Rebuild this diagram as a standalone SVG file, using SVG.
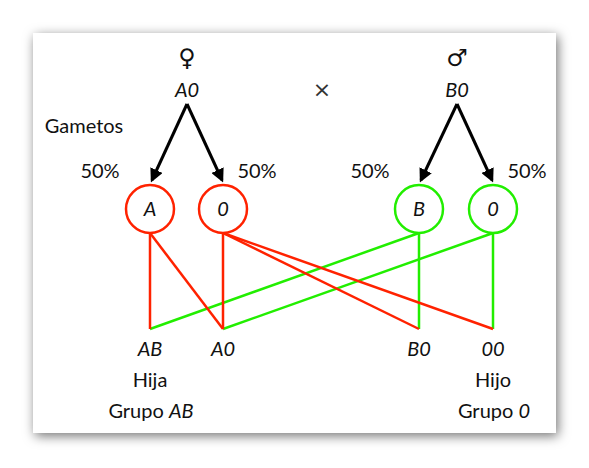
<svg xmlns="http://www.w3.org/2000/svg" width="589" height="468" viewBox="0 0 589 468">
<defs>
<filter id="sh" x="-10%" y="-10%" width="120%" height="125%">
<feDropShadow dx="2" dy="3" stdDeviation="6" flood-color="#000" flood-opacity="0.55"/>
</filter>
<marker id="ah" viewBox="0 0 10 10" refX="8" refY="5" markerWidth="4.5" markerHeight="4.5" orient="auto" markerUnits="strokeWidth">
<path d="M0,0 L10,5 L0,10 z" fill="#000"/>
</marker>
<style>
text{font-family:Lato,"Noto Sans","Liberation Sans",sans-serif;fill:#111;text-anchor:middle;font-size:20px}
.i{font-style:italic}
.sym{font-family:"DejaVu Sans",sans-serif;font-size:24px}
.x{font-family:"DejaVu Sans",sans-serif;font-size:22px;fill:#333}
.arr{stroke:#000;stroke-width:3;fill:none;marker-end:url(#ah)}
.rc{fill:#fff;stroke:#ff2200;stroke-width:2.5}
.gc{fill:#fff;stroke:#22ee00;stroke-width:2.5}
.r{stroke:#ff2200;stroke-width:2.5;fill:none}
.g{stroke:#22ee00;stroke-width:2.5;fill:none}
</style>
</defs>
<rect x="33" y="33" width="523" height="400" fill="#fff" filter="url(#sh)"/>

<g id="female">
<text class="sym" x="187" y="66">♀</text>
<text class="i" x="187" y="97">A0</text>
</g>
<g id="cross"><text class="x" x="322" y="97">×</text></g>
<g id="male">
<text class="sym" x="457" y="66">♂</text>
<text class="i" x="457" y="97">B0</text>
</g>
<g id="label-gametos"><text x="84" y="133">Gametos</text></g>
<g id="pct">
<text x="100" y="178">50%</text>
<text x="257" y="178">50%</text>
<text x="370" y="178">50%</text>
<text x="527" y="178">50%</text>
</g>

<g id="connectors">
<line class="arr" x1="187" y1="104" x2="152" y2="180"/>
<line class="arr" x1="187" y1="104" x2="222" y2="180"/>
<line class="arr" x1="457" y1="104" x2="421" y2="180"/>
<line class="arr" x1="457" y1="104" x2="492" y2="180"/>
<line class="g" x1="419" y1="233" x2="150" y2="329"/>
<line class="g" x1="493" y1="233" x2="223" y2="329"/>
<line class="g" x1="419" y1="233" x2="419" y2="329"/>
<line class="g" x1="493" y1="233" x2="493" y2="329"/>
<line class="r" x1="150" y1="233" x2="150" y2="329"/>
<line class="r" x1="150" y1="233" x2="223" y2="329"/>
<line class="r" x1="223" y1="233" x2="223" y2="329"/>
<line class="r" x1="223" y1="233" x2="419" y2="329"/>
<line class="r" x1="223" y1="233" x2="493" y2="329"/>
</g>

<g id="gamete-A"><circle class="rc" cx="150" cy="209" r="24"/><text class="i" x="150" y="216">A</text></g>
<g id="gamete-0f"><circle class="rc" cx="223" cy="209" r="24"/><text class="i" x="223" y="216">0</text></g>
<g id="gamete-B"><circle class="gc" cx="419" cy="209" r="24"/><text class="i" x="419" y="216">B</text></g>
<g id="gamete-0m"><circle class="gc" cx="493" cy="209" r="24"/><text class="i" x="493" y="216">0</text></g>

<g id="child-AB">
<text class="i" x="150" y="356">AB</text>
<text x="150" y="387">Hija</text>
<text x="151" y="418">Grupo <tspan class="i">AB</tspan></text>
</g>
<g id="child-A0"><text class="i" x="223" y="356">A0</text></g>
<g id="child-B0"><text class="i" x="419" y="356">B0</text></g>
<g id="child-00">
<text class="i" x="493" y="356">00</text>
<text x="493" y="387">Hijo</text>
<text x="494" y="418">Grupo <tspan class="i">0</tspan></text>
</g>
</svg>
